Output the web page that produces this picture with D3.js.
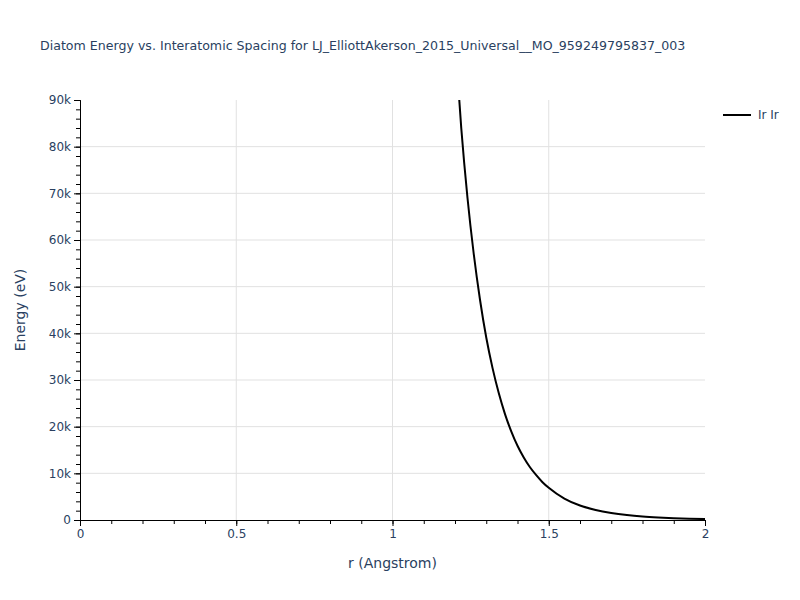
<!DOCTYPE html>
<html>
<head>
<meta charset="utf-8">
<script src="https://cdn.jsdelivr.net/npm/d3@7"></script>
<style>
  body { margin: 0; background: #fff; }
  svg { font-family: "DejaVu Sans", sans-serif; }
</style>
</head>
<body>
<div id="chart"></div>
<script>
// values
const rValues = [1.20, 1.22, 1.24, 1.26, 1.28, 1.30, 1.32, 1.34, 1.36, 1.38, 1.40,
                 1.42, 1.44, 1.46, 1.48, 1.50, 1.55, 1.60, 1.65, 1.70, 1.75,
                 1.80, 1.85, 1.90, 1.95, 2.00];
const energyValues = [103000, 84000, 69000, 57000, 47200, 39100, 32600, 27200, 22700, 19000, 15900,
                      13400, 11300, 9600, 8100, 6900, 4600, 3100, 2150, 1500, 1050,
                      740, 530, 380, 270, 200];
const seriesName = 'Ir Ir';
const xTicks = [0, 0.5, 1, 1.5, 2];
const yTicks = [0, 10000, 20000, 30000, 40000, 50000, 60000, 70000, 80000, 90000];

const width = 800, height = 600;
const margin = {left: 80, right: 95, top: 100, bottom: 80};
const textColor = '#2a3f5f';
const fontFamily = '"DejaVu Sans", sans-serif';

const svg = d3.select('#chart').append('svg')
    .attr('width', width)
    .attr('height', height);

const x = d3.scaleLinear().domain([0, 2]).range([margin.left, width - margin.right]);
const y = d3.scaleLinear().domain([0, 90000]).range([height - margin.bottom, margin.top]);

// Title
svg.append('text')
    .attr('x', 40)
    .attr('y', 50)
    .attr('font-size', 12.6)
    .attr('fill', textColor)
    .text('Diatom Energy vs. Interatomic Spacing for LJ_ElliottAkerson_2015_Universal__MO_959249795837_003');

// Gridlines
svg.append('g').selectAll('line')
    .data(xTicks.filter(d => d > 0 && d < 2)).enter()
    .append('line')
    .attr('x1', d => x(d)).attr('x2', d => x(d))
    .attr('y1', y(0)).attr('y2', y(90000))
    .attr('stroke', '#e1e1e1');

svg.append('g').selectAll('line')
    .data(yTicks.filter(d => d > 0 && d < 90000)).enter()
    .append('line')
    .attr('x1', x(0)).attr('x2', x(2))
    .attr('y1', d => y(d)).attr('y2', d => y(d))
    .attr('stroke', '#e1e1e1');

// Curve, clipped to the plot area
svg.append('clipPath').attr('id', 'clip')
    .append('rect')
    .attr('x', x(0)).attr('y', y(90000))
    .attr('width', x(2) - x(0)).attr('height', y(0) - y(90000));

const line = d3.line()
    .x((d, i) => x(rValues[i]))
    .y(d => y(d))
    .curve(d3.curveMonotoneX);

svg.append('path')
    .datum(energyValues)
    .attr('clip-path', 'url(#clip)')
    .attr('d', line)
    .attr('fill', 'none')
    .attr('stroke', 'black')
    .attr('stroke-width', 2);

// X axis: minor ticks then major ticks with labels
const xAxisG = svg.append('g').attr('transform', `translate(0, ${y(0)})`);
xAxisG.call(d3.axisBottom(x).tickValues(d3.range(0, 2.001, 0.1)).tickSize(4).tickFormat(''));
xAxisG.call(g => g.append('g').call(d3.axisBottom(x).tickValues(xTicks).tickSize(6)
    .tickFormat(d => d)));
xAxisG.selectAll('text').attr('font-size', 12).attr('fill', textColor)
    .attr('font-family', fontFamily);
xAxisG.selectAll('path.domain').attr('stroke', 'black');
xAxisG.selectAll('line').attr('stroke', 'black');

// Y axis
const yAxisG = svg.append('g').attr('transform', `translate(${x(0)}, 0)`);
yAxisG.call(d3.axisLeft(y).tickValues(d3.range(0, 90001, 2000)).tickSize(4).tickFormat(''));
yAxisG.call(g => g.append('g').call(d3.axisLeft(y).tickValues(yTicks).tickSize(6)
    .tickFormat(d => d === 0 ? '0' : (d / 1000) + 'k')));
yAxisG.selectAll('text').attr('font-size', 12).attr('fill', textColor)
    .attr('font-family', fontFamily);
yAxisG.selectAll('path.domain').attr('stroke', 'black');
yAxisG.selectAll('line').attr('stroke', 'black');

// Axis titles
svg.append('text')
    .attr('x', x(1))
    .attr('y', 568)
    .attr('font-size', 14)
    .attr('fill', textColor)
    .attr('text-anchor', 'middle')
    .text('r (Angstrom)');

svg.append('text')
    .attr('transform', `translate(25, ${y(45000)}) rotate(-90)`)
    .attr('font-size', 14)
    .attr('fill', textColor)
    .attr('text-anchor', 'middle')
    .text('Energy (eV)');

// Legend
const legend = svg.append('g').attr('transform', 'translate(723, 115)');
legend.append('line')
    .attr('x1', 0).attr('x2', 28)
    .attr('stroke', 'black')
    .attr('stroke-width', 2);
legend.append('text')
    .attr('x', 35)
    .attr('y', 4)
    .attr('font-size', 12)
    .attr('fill', textColor)
    .text(seriesName);
</script>
</body>
</html>
